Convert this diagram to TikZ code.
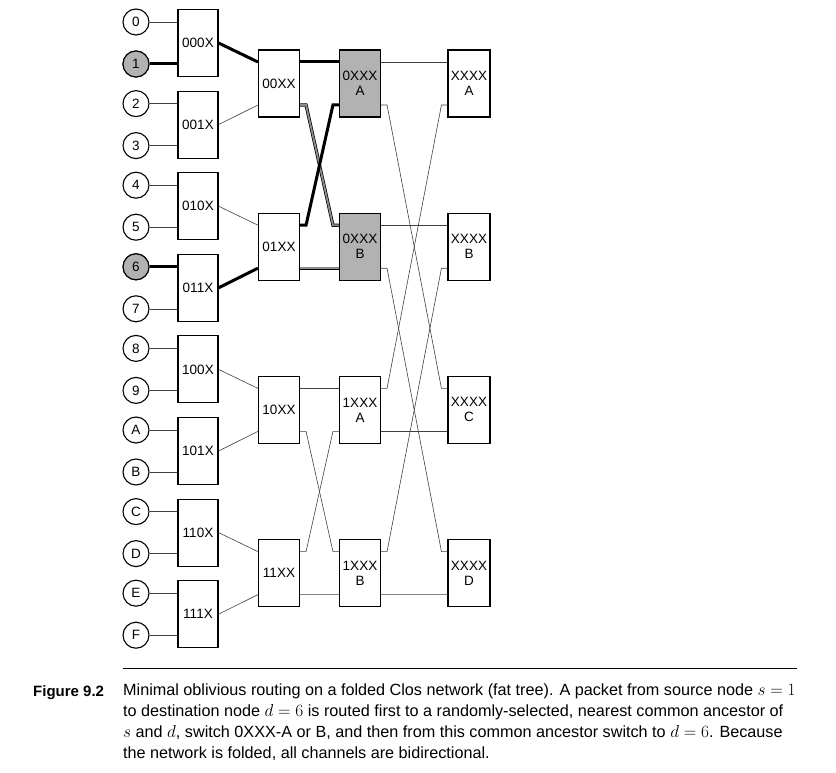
\documentclass[tikz,border=0pt]{standalone}
\usepackage{fontspec}
\setsansfont{Liberation Sans}
\usetikzlibrary{calc}
\tikzset{
  box/.style={draw,line width=1.1pt,minimum width=40pt,minimum height=67pt,inner sep=0pt,font=\sffamily\fontsize{13.5}{15}\selectfont,align=center,fill=white},
  term/.style={draw,circle,line width=1.1pt,minimum size=26pt,inner sep=0pt,font=\sffamily\fontsize{13.5}{15}\selectfont,fill=white},
  wire/.style={line width=0.6pt,draw=black!75},
  hot/.style={line width=3pt,black},
  shade/.style={fill=black!30},
}
\newcommand{\jog}[3]{\draw[#1] (#2) -- ++(6pt,0) -- ([xshift=-6pt]#3) -- (#3);}
\newcommand{\grayjog}[2]{\draw[line width=3.2pt,black] (#1) -- ++(6pt,0) -- ([xshift=-6pt]#2) -- (#2);\draw[line width=1.8pt,black!45] (#1) -- ++(6pt,0) -- ([xshift=-6pt]#2) -- (#2);}
\begin{document}
\begin{tikzpicture}[x=1pt,y=-1pt]
\useasboundingbox (0,0) rectangle (836,773);
\foreach \n/\lab [count=\j from 0] in {s00/00XX,s01/01XX,s10/10XX,s11/11XX}{
  \node[box,minimum width=41pt] (\n) at (279,83.5+163.2*\j) {\lab};}
\node[box,shade,minimum width=41pt] (a0A) at (360,83.5) {0XXX\\A};
\node[box,shade,minimum width=41pt] (a0B) at (360,246.7) {0XXX\\B};
\node[box,minimum width=41pt] (a1A) at (360,409.9) {1XXX\\A};
\node[box,minimum width=41pt] (a1B) at (360,573.1) {1XXX\\B};
\foreach \n/\lab [count=\j from 0] in {tA/A,tB/B,tC/C,tD/D}{
  \node[box,minimum width=42pt] (\n) at (469,83.5+163.2*\j) {XXXX\\\lab};}
\foreach \n in {s00,s01,s10,s11,a0A,a0B,a1A,a1B,tA,tB,tC,tD}{
  \coordinate (\n-tw) at ([yshift=21.5pt]\n.west);
  \coordinate (\n-bw) at ([yshift=-21.5pt]\n.west);
  \coordinate (\n-te) at ([yshift=21.5pt]\n.east);
  \coordinate (\n-be) at ([yshift=-21.5pt]\n.east);}
\foreach \lab [count=\i from 0] in {000X,001X,010X,011X,100X,101X,110X,111X}{
  \node[box] (p\i) at (198,43+81.6*\i) {\lab};
  \coordinate (p\i-tw) at ([yshift=21pt]p\i.west);
  \coordinate (p\i-bw) at ([yshift=-21pt]p\i.west);}
\foreach \lab [count=\k from 0] in {0,1,2,3,4,5,6,7,8,9,A,B,C,D,E,F}{
  \pgfmathtruncatemacro{\bx}{int(\k/2)}
  \pgfmathsetmacro{\yy}{43+81.6*\bx+(mod(\k,2)==0?-21:21)}
  \node[term] (t\lab) at (136,\yy) {\lab};}
\foreach \a/\b in {0/p0-tw,2/p1-tw,3/p1-bw,4/p2-tw,5/p2-bw,7/p3-bw,8/p4-tw,9/p4-bw,A/p5-tw,B/p5-bw,C/p6-tw,D/p6-bw,E/p7-tw,F/p7-bw}{
  \draw[wire] (t\a) -- (\b);}
\draw[hot] (t1) -- (p0-bw);
\draw[hot] (t6) -- (p3-tw);
\draw[hot] (p0.east) -- (s00-tw);
\draw[wire] (p1.east) -- (s00-bw);
\draw[wire] (p2.east) -- (s01-tw);
\draw[hot] (p3.east) -- (s01-bw);
\draw[wire] (p4.east) -- (s10-tw);
\draw[wire] (p5.east) -- (s10-bw);
\draw[wire] (p6.east) -- (s11-tw);
\draw[wire] (p7.east) -- (s11-bw);
\draw[hot] (s00-te) -- (a0A-tw);
\grayjog{s00-be}{a0B-tw}
\jog{hot}{s01-te}{a0A-bw}
\grayjog{s01-be}{a0B-bw}
\draw[wire] (s10-te) -- (a1A-tw);
\jog{wire}{s10-be}{a1B-tw}
\jog{wire}{s11-te}{a1A-bw}
\draw[wire] (s11-be) -- (a1B-bw);
\draw[wire] (a0A-te) -- (tA-tw);
\jog{wire}{a0A-be}{tC-tw}
\draw[wire] (a0B-te) -- (tB-tw);
\jog{wire}{a0B-be}{tD-tw}
\jog{wire}{a1A-te}{tA-bw}
\draw[wire] (a1A-be) -- (tC-bw);
\jog{wire}{a1B-te}{tB-bw}
\draw[wire] (a1B-be) -- (tD-bw);
\node[term,fill=black!30] at (t1) {1};
\node[term,fill=black!30] at (t6) {6};
% caption
\draw[line width=0.6pt] (123,668) -- (797,668);
\node[anchor=base west,inner sep=0pt,font=\sffamily\bfseries\fontsize{15}{17}\selectfont] (fig) at (33,696) {Figure 9.2};
\node[anchor=north west,inner sep=0pt,align=left,font=\sffamily\fontsize{16.2}{21}\selectfont] (cap) at (123,684)
 {Minimal oblivious routing on a folded Clos network (fat tree). A packet from source node $s=1$\\
  to destination node $d=6$ is routed first to a randomly-selected, nearest common ancestor of\\
  $s$ and $d$, switch 0XXX-A or B, and then from this common ancestor switch to $d=6$. Because\\
  the network is folded, all channels are bidirectional.};
\end{tikzpicture}
\end{document}
